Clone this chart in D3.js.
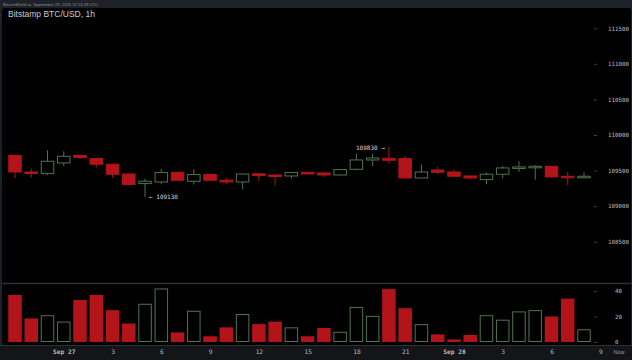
<!DOCTYPE html>
<html>
<head>
<meta charset="utf-8">
<script src="https://cdn.jsdelivr.net/npm/d3@7"></script>
<style>
  html, body { margin: 0; padding: 0; background: #1e2128; }
  svg { display: block; }
</style>
</head>
<body>
<div id="chart"></div>
<script>
// Bitstamp BTC/USD 1h candles, Sep 26 21:00 -> Sep 28 08:00 (UTC)
const opens  = [109711, 109480, 109458, 109607, 109711, 109669, 109589, 109452, 109317, 109340,
                109476, 109350, 109444, 109364, 109340, 109455, 109438, 109424, 109476, 109466,
                109438, 109518, 109649, 109673, 109669, 109396, 109508, 109480, 109424, 109373,
                109448, 109537, 109551, 109560, 109420, 109410];
const highs  = [109715, 109528, 109785, 109771, 109729, 109672, 109595, 109455, 109388, 109518,
                109480, 109518, 109450, 109392, 109460, 109460, 109440, 109476, 109480, 109470,
                109520, 109739, 109739, 109830, 109705, 109584, 109551, 109518, 109430, 109472,
                109565, 109631, 109575, 109565, 109480, 109476];
const lows   = [109392, 109402, 109441, 109565, 109663, 109542, 109402, 109300, 109130, 109307,
                109360, 109303, 109360, 109312, 109237, 109357, 109293, 109385, 109444, 109410,
                109430, 109504, 109560, 109598, 109390, 109390, 109448, 109415, 109378, 109307,
                109396, 109480, 109373, 109405, 109293, 109392];
const closes = [109480, 109458, 109631, 109701, 109683, 109589, 109448, 109303, 109350, 109472,
                109364, 109444, 109364, 109340, 109452, 109430, 109416, 109472, 109452, 109438,
                109514, 109649, 109677, 109645, 109396, 109480, 109476, 109420, 109396, 109448,
                109537, 109551, 109560, 109410, 109406, 109420];
const volumes = [37, 18.5, 21, 16, 33, 37, 25, 14.5, 30, 42,
                 7.5, 24.5, 4.5, 11.5, 22, 14, 16, 11.5, 4.5, 11,
                 8, 27.5, 20.5, 41.5, 26.5, 14, 6, 2, 5.5, 21,
                 17.5, 24, 25, 20, 34, 10];

const timeTickIdx    = [3, 6, 9, 12, 15, 18, 21, 24, 27, 30, 33, 36];
const timeTickLabels = ['Sep 27', '3', '6', '9', '12', '15', '18', '21', 'Sep 28', '3', '6', '9'];
const priceTicks  = [108500, 109000, 109500, 110000, 110500, 111000, 111500];
const volumeTicks = [0, 20, 40];

const lowMark  = { idx: 8, value: 109130 };
const highMark = { idx: 23, value: 109830 };

const W = 632, H = 360;
const RED = '#b3141a', GREEN = '#4f7452';
const mono = '"DejaVu Sans Mono", monospace';

const svg = d3.select('#chart').append('svg').attr('width', W).attr('height', H);

// frame
svg.append('rect').attr('width', W).attr('height', H).attr('fill', '#1e2128');
svg.append('rect').attr('x', 2).attr('y', 8).attr('width', W - 3).attr('height', 338)
  .attr('rx', 3).attr('fill', '#000');
svg.append('rect').attr('x', 0).attr('y', 345).attr('width', W).attr('height', 15).attr('fill', '#131519');
svg.append('line').attr('x1', 0).attr('x2', W).attr('y1', 345.5).attr('y2', 345.5)
  .attr('stroke', '#2c2f36').attr('stroke-width', 1);
svg.append('line').attr('x1', 2).attr('x2', W).attr('y1', 283.5).attr('y2', 283.5)
  .attr('stroke', '#2c2f36').attr('stroke-width', 1.5);

svg.append('text').attr('x', 3).attr('y', 5.5)
  .attr('fill', '#8a8f99').attr('font-size', 4.2).attr('font-family', 'Arial, "Liberation Sans", sans-serif')
  .text('BitcoinWorld.io, September 28, 2025 12:16:28 UTC');
svg.append('text').attr('x', 8).attr('y', 17)
  .attr('fill', '#c8cbd0').attr('font-size', 8.5).attr('font-family', 'Arial, "Liberation Sans", sans-serif')
  .text('Bitstamp BTC/USD, 1h');

// scales
const x = d3.scaleLinear().domain([0, 35]).range([15, 584]);
const y = d3.scaleLinear().domain([108500, 111500]).range([241.7, 28.3]);
const yv = d3.scaleLinear().domain([0, 40]).range([342, 291]);
const bw = 13.5;

const idx = d3.range(opens.length);

// price / volume axes on the right
const priceAxis = svg.append('g').attr('transform', 'translate(594,0)')
  .call(d3.axisRight(y).tickValues(priceTicks).tickSize(3).tickPadding(11).tickFormat(d3.format('d')));
const volAxis = svg.append('g').attr('transform', 'translate(594,0)')
  .call(d3.axisRight(yv).tickValues(volumeTicks).tickSize(3).tickPadding(18).tickFormat(d3.format('d')));
[priceAxis, volAxis].forEach(a => {
  a.select('.domain').remove();
  a.selectAll('line').attr('stroke', '#3a3d44');
  a.selectAll('text').attr('fill', '#b9bcc2').attr('font-family', mono).attr('font-size', 5.8);
});

// time axis
const timeAxis = svg.append('g').attr('transform', 'translate(0,346)')
  .call(d3.axisBottom(x).tickValues(timeTickIdx).tickSize(0).tickPadding(3.5)
    .tickFormat((d, i) => timeTickLabels[i]));
timeAxis.select('.domain').remove();
timeAxis.selectAll('text').attr('fill', '#b9bcc2').attr('font-family', mono).attr('font-size', 6.2)
  .attr('font-weight', (d, i) => timeTickLabels[i].startsWith('Sep') ? 'bold' : 'normal');
svg.append('text').attr('x', 619).attr('y', 353.5).attr('text-anchor', 'middle')
  .attr('fill', '#9a9da4').attr('font-family', 'Arial, sans-serif').attr('font-size', 5.5).text('Now');

// volume bars
svg.append('g').selectAll('rect').data(idx).join('rect')
  .attr('x', i => x(i) - bw / 2 + (closes[i] >= opens[i] ? 0.5 : 0))
  .attr('y', i => yv(volumes[i]) + (closes[i] >= opens[i] ? 0.5 : 0))
  .attr('width', i => closes[i] >= opens[i] ? bw - 1 : bw)
  .attr('height', i => yv(0) - yv(volumes[i]) - (closes[i] >= opens[i] ? 1 : 0))
  .attr('fill', i => closes[i] >= opens[i] ? '#000' : RED)
  .attr('stroke', i => closes[i] >= opens[i] ? GREEN : 'none')
  .attr('stroke-width', 1);

// candles
const candles = svg.append('g').selectAll('g').data(idx).join('g');
candles.append('line')
  .attr('x1', i => x(i)).attr('x2', i => x(i))
  .attr('y1', i => y(highs[i])).attr('y2', i => y(lows[i]))
  .attr('stroke', i => closes[i] >= opens[i] ? GREEN : RED).attr('stroke-width', 1);
candles.append('rect')
  .attr('x', i => x(i) - bw / 2 + 0.5)
  .attr('y', i => y(Math.max(opens[i], closes[i])))
  .attr('width', bw - 1)
  .attr('height', i => Math.max(1.5, Math.abs(y(opens[i]) - y(closes[i]))))
  .attr('fill', i => closes[i] >= opens[i] ? '#000' : RED)
  .attr('stroke', i => closes[i] >= opens[i] ? GREEN : RED)
  .attr('stroke-width', 1);

// high / low markers
svg.append('text').attr('x', x(lowMark.idx) + 4).attr('y', y(lowMark.value) + 2.5)
  .attr('fill', '#d8dade').attr('font-family', mono).attr('font-size', 6)
  .text('← ' + lowMark.value);
svg.append('text').attr('x', x(highMark.idx) - 4).attr('y', y(highMark.value) + 2.5)
  .attr('text-anchor', 'end')
  .attr('fill', '#d8dade').attr('font-family', mono).attr('font-size', 6)
  .text(highMark.value + ' →');
</script>
</body>
</html>
